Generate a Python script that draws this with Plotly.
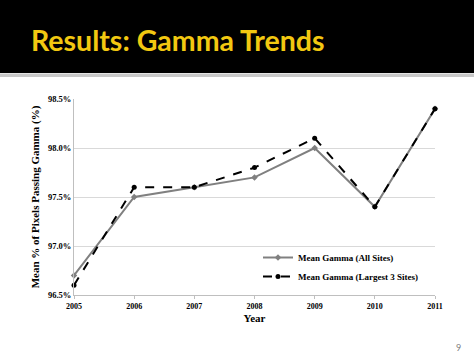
import plotly.graph_objects as go

years = [2005, 2006, 2007, 2008, 2009, 2010, 2011]
all_sites = [96.7, 97.5, 97.6, 97.7, 98.0, 97.4, 98.4]
largest3 = [96.6, 97.6, 97.6, 97.8, 98.1, 97.4, 98.4]
y_ticks = [96.5, 97.0, 97.5, 98.0, 98.5]
y_tick_labels = ["96.5%", "97.0%", "97.5%", "98.0%", "98.5%"]

W, H = 474, 355
L, R, T, B = 74, 39, 99, 60
pw, ph = W - L - R, H - T - B

def px(x):
    return (x - L) / pw

def py(y):
    return (H - B - y) / ph

serif = "Liberation Serif, Times New Roman, serif"

fig = go.Figure()
fig.add_trace(go.Scatter(
    x=years, y=all_sites, name="<b>Mean Gamma (All Sites)</b>",
    mode="lines+markers",
    line=dict(color="#808080", width=2),
    marker=dict(symbol="diamond", size=5, color="#808080"),
    cliponaxis=False,
))
fig.add_trace(go.Scatter(
    x=years, y=largest3, name="<b>Mean Gamma (Largest 3 Sites)</b>",
    mode="lines+markers",
    line=dict(color="#000000", width=2, dash="dash"),
    marker=dict(symbol="circle", size=5, color="#000000"),
    cliponaxis=False,
))

fig.update_layout(
    width=W, height=H,
    margin=dict(l=L, r=R, t=T, b=B),
    paper_bgcolor="white", plot_bgcolor="white",
    showlegend=True,
    legend=dict(
        x=px(258), y=py(243), xanchor="left", yanchor="top",
        bgcolor="rgba(255,255,255,0)",
        font=dict(family=serif, size=9, color="#000"),
        itemwidth=30,
    ),
    xaxis=dict(
        range=[2005, 2011], tickvals=years, ticktext=["<b>%d</b>" % y for y in years],
        showgrid=False, showline=True, linecolor="#BFBFBF", linewidth=1,
        ticks="outside", ticklen=3, tickcolor="#BFBFBF",
        tickfont=dict(family=serif, size=8, color="#000"),
        title=dict(text="<b>Year</b>", font=dict(family=serif, size=11, color="#000"), standoff=4),
        zeroline=False,
    ),
    yaxis=dict(
        range=[96.5, 98.5], tickvals=y_ticks, ticktext=["<b>%s</b>" % t for t in y_tick_labels],
        showgrid=True, gridcolor="#D9D9D9", gridwidth=1,
        showline=True, linecolor="#BFBFBF", linewidth=1,
        tickfont=dict(family=serif, size=8.5, color="#000"),
        title=dict(text="<b>Mean % of Pixels Passing Gamma (%)</b>", font=dict(family=serif, size=11, color="#000"), standoff=6),
        zeroline=False,
    ),
)

# black header band
fig.add_shape(type="rect", xref="paper", yref="paper",
              x0=px(0), x1=px(W), y0=py(73), y1=py(0),
              fillcolor="#000000", line=dict(width=0), layer="below")
fig.add_shape(type="rect", xref="paper", yref="paper",
              x0=px(0), x1=px(W), y0=py(77), y1=py(73.5),
              fillcolor="#C8C8C8", line=dict(width=0), layer="below")

fig.add_annotation(text="<b>Results: Gamma Trends</b>", xref="paper", yref="paper",
                   x=px(29), y=py(40), xanchor="left", yanchor="middle",
                   showarrow=False, font=dict(family="Lato, Open Sans, sans-serif", size=28.5, color="#F2C811"))
fig.add_annotation(text="9", xref="paper", yref="paper",
                   x=px(458), y=py(347), xanchor="center", yanchor="middle",
                   showarrow=False, font=dict(family="Lato, sans-serif", size=9, color="#808080"))

fig.write_html("out.html", config={"displayModeBar": False},
               post_script="document.body.style.margin='0';document.body.style.overflow='hidden';")
